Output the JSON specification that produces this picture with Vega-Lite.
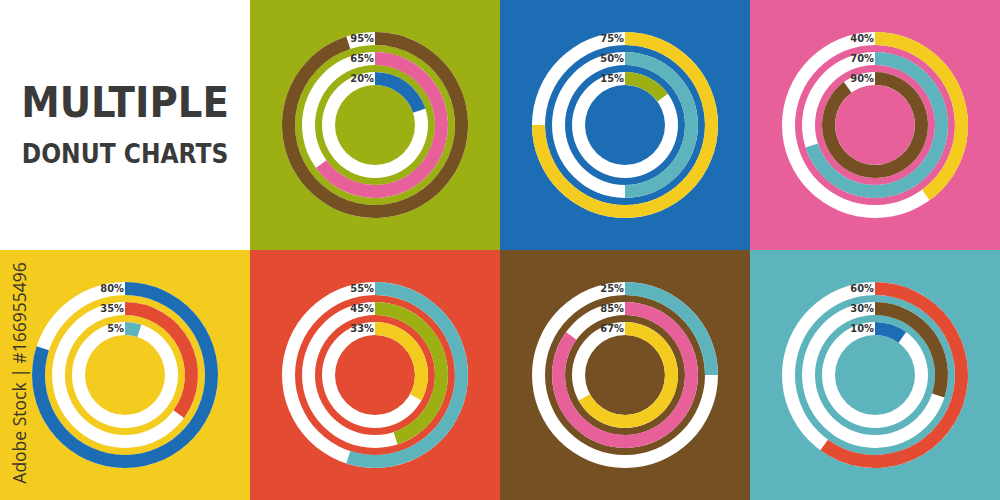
{
  "$schema": "https://vega.github.io/schema/vega-lite/v6.json",
  "width": 1000,
  "height": 500,
  "autosize": {"type": "none"},
  "padding": 0,
  "background": "#ffffff",
  "config": {"view": {"stroke": null}},
  "datasets": {
    "tiles": [
      {"col": 0, "row": 0, "color": "white"},
      {"col": 1, "row": 0, "color": "green"},
      {"col": 2, "row": 0, "color": "blue"},
      {"col": 3, "row": 0, "color": "pink"},
      {"col": 0, "row": 1, "color": "yellow"},
      {"col": 1, "row": 1, "color": "red"},
      {"col": 2, "row": 1, "color": "brown"},
      {"col": 3, "row": 1, "color": "teal"}
    ],
    "rings": [
      {"col": 1, "row": 0, "ring": 1, "pct": 0.95, "color": "brown"},
      {"col": 1, "row": 0, "ring": 2, "pct": 0.65, "color": "pink"},
      {"col": 1, "row": 0, "ring": 3, "pct": 0.20, "color": "blue"},
      {"col": 2, "row": 0, "ring": 1, "pct": 0.75, "color": "yellow"},
      {"col": 2, "row": 0, "ring": 2, "pct": 0.50, "color": "teal"},
      {"col": 2, "row": 0, "ring": 3, "pct": 0.15, "color": "green"},
      {"col": 3, "row": 0, "ring": 1, "pct": 0.40, "color": "yellow"},
      {"col": 3, "row": 0, "ring": 2, "pct": 0.70, "color": "teal"},
      {"col": 3, "row": 0, "ring": 3, "pct": 0.90, "color": "brown"},
      {"col": 0, "row": 1, "ring": 1, "pct": 0.80, "color": "blue"},
      {"col": 0, "row": 1, "ring": 2, "pct": 0.35, "color": "red"},
      {"col": 0, "row": 1, "ring": 3, "pct": 0.05, "color": "teal"},
      {"col": 1, "row": 1, "ring": 1, "pct": 0.55, "color": "teal"},
      {"col": 1, "row": 1, "ring": 2, "pct": 0.45, "color": "green"},
      {"col": 1, "row": 1, "ring": 3, "pct": 0.33, "color": "yellow"},
      {"col": 2, "row": 1, "ring": 1, "pct": 0.25, "color": "teal"},
      {"col": 2, "row": 1, "ring": 2, "pct": 0.85, "color": "pink"},
      {"col": 2, "row": 1, "ring": 3, "pct": 0.67, "color": "yellow"},
      {"col": 3, "row": 1, "ring": 1, "pct": 0.60, "color": "red"},
      {"col": 3, "row": 1, "ring": 2, "pct": 0.30, "color": "brown"},
      {"col": 3, "row": 1, "ring": 3, "pct": 0.10, "color": "blue"}
    ],
    "title1": [{"col": 0, "row": 0, "label": "MULTIPLE"}],
    "title2": [{"col": 0, "row": 0, "label": "DONUT CHARTS"}],
    "stamp": [{"col": 0, "row": 1, "label": "Adobe Stock | #166955496"}]
  },
  "encoding": {
    "x": {"field": "col", "type": "ordinal", "scale": {"domain": [0, 1, 2, 3], "paddingInner": 0, "paddingOuter": 0}, "axis": null},
    "y": {"field": "row", "type": "ordinal", "scale": {"domain": [0, 1], "paddingInner": 0, "paddingOuter": 0}, "axis": null}
  },
  "layer": [
    {
      "data": {"name": "tiles"},
      "mark": {"type": "rect", "strokeWidth": 0},
      "encoding": {
        "color": {"field": "color", "type": "nominal", "legend": null,
          "scale": {"domain": ["white", "green", "blue", "pink", "yellow", "red", "brown", "teal"],
                    "range": ["#ffffff", "#9cb014", "#1d6db4", "#e7609a", "#f3cc1f", "#e34c32", "#745022", "#5eb4bd"]}}
      }
    },
    {
      "data": {"name": "rings"},
      "mark": {"type": "arc", "radius2Offset": -13, "color": "#ffffff"},
      "encoding": {
        "theta": {"datum": 0, "type": "quantitative", "scale": {"domain": [0, 1], "range": [0, 6.283185307179586]}},
        "theta2": {"datum": 1},
        "radius": {"field": "ring", "type": "quantitative", "scale": {"type": "linear", "domain": [1, 3], "range": [93, 53], "zero": false}},
        "radius2": {"field": "ring"}
      }
    },
    {
      "data": {"name": "rings"},
      "mark": {"type": "arc", "radius2Offset": -13},
      "encoding": {
        "theta": {"field": "pct", "type": "quantitative", "stack": null, "scale": {"domain": [0, 1], "range": [0, 6.283185307179586]}},
        "theta2": {"datum": 0},
        "radius": {"field": "ring", "type": "quantitative", "scale": {"type": "linear", "domain": [1, 3], "range": [93, 53], "zero": false}},
        "radius2": {"field": "ring"},
        "color": {"field": "color", "type": "nominal", "legend": null}
      }
    },
    {
      "data": {"name": "rings"},
      "transform": [{"filter": "datum.ring == 1"}],
      "mark": {"type": "text", "align": "right", "baseline": "middle", "dx": -1, "dy": -86.5, "fontSize": 11, "fontWeight": "bold", "font": "DejaVu Sans Condensed, sans-serif", "color": "#333333"},
      "encoding": {"text": {"field": "pct", "type": "quantitative", "format": ".0%"}}
    },
    {
      "data": {"name": "rings"},
      "transform": [{"filter": "datum.ring == 2"}],
      "mark": {"type": "text", "align": "right", "baseline": "middle", "dx": -1, "dy": -66.5, "fontSize": 11, "fontWeight": "bold", "font": "DejaVu Sans Condensed, sans-serif", "color": "#333333"},
      "encoding": {"text": {"field": "pct", "type": "quantitative", "format": ".0%"}}
    },
    {
      "data": {"name": "rings"},
      "transform": [{"filter": "datum.ring == 3"}],
      "mark": {"type": "text", "align": "right", "baseline": "middle", "dx": -1, "dy": -46.5, "fontSize": 11, "fontWeight": "bold", "font": "DejaVu Sans Condensed, sans-serif", "color": "#333333"},
      "encoding": {"text": {"field": "pct", "type": "quantitative", "format": ".0%"}}
    },
    {
      "data": {"name": "title1"},
      "mark": {"type": "text", "align": "center", "baseline": "middle", "dy": -21, "fontSize": 43, "fontWeight": "bold", "font": "DejaVu Sans Condensed, sans-serif", "color": "#3a3a3a"},
      "encoding": {"text": {"field": "label", "type": "nominal"}}
    },
    {
      "data": {"name": "title2"},
      "mark": {"type": "text", "align": "center", "baseline": "middle", "dy": 30, "fontSize": 26, "fontWeight": "bold", "font": "DejaVu Sans Condensed, sans-serif", "color": "#3a3a3a"},
      "encoding": {"text": {"field": "label", "type": "nominal"}}
    },
    {
      "data": {"name": "stamp"},
      "mark": {"type": "text", "align": "center", "baseline": "middle", "angle": 270, "dx": 2, "dy": -104, "fontSize": 17.5, "font": "Open Sans, sans-serif", "color": "#3a3528"},
      "encoding": {"text": {"field": "label", "type": "nominal"}}
    }
  ]
}
